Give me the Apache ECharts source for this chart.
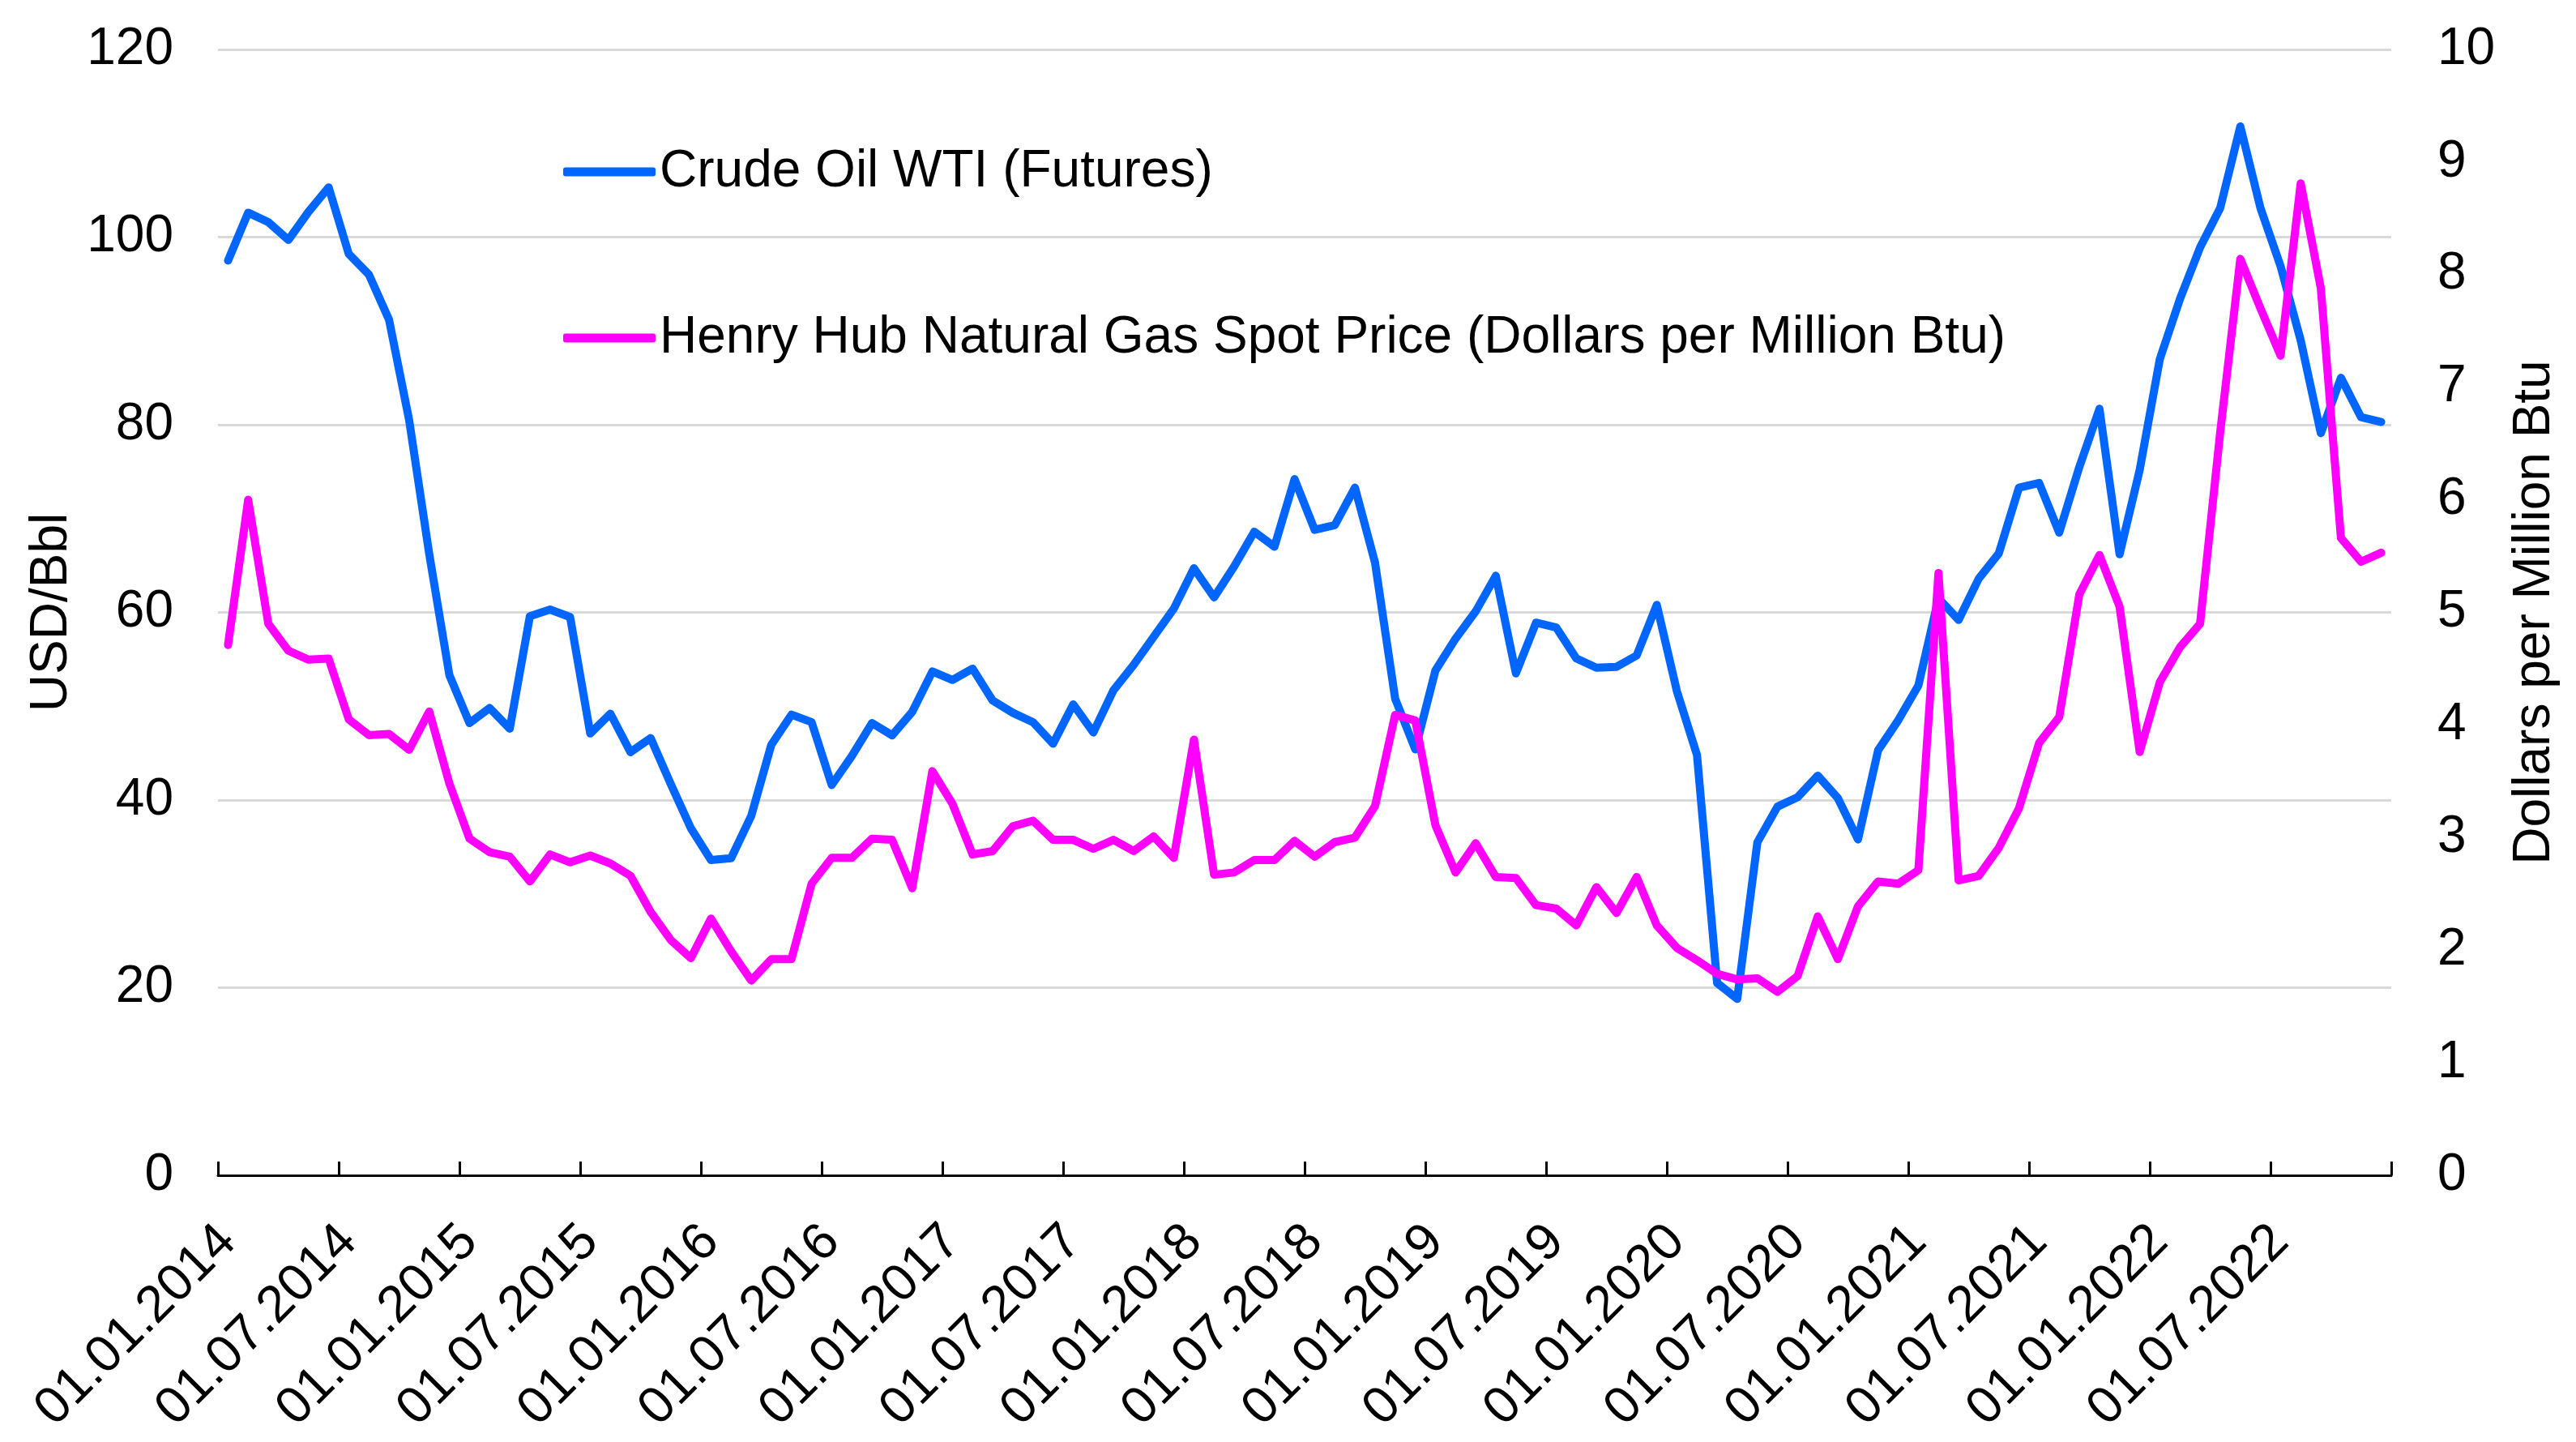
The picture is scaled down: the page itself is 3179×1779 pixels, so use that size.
<!DOCTYPE html>
<html>
<head>
<meta charset="utf-8">
<script src="https://cdn.jsdelivr.net/npm/echarts@6/dist/echarts.min.js"></script>
<style>
html,body{margin:0;padding:0;background:#fff;}
#chart{width:3179px;height:1779px;}
</style>
</head>
<body>
<div id="chart"></div>
<script>
var categories = [
"01.01.2014","01.02.2014","01.03.2014","01.04.2014","01.05.2014","01.06.2014","01.07.2014","01.08.2014","01.09.2014","01.10.2014","01.11.2014","01.12.2014",
"01.01.2015","01.02.2015","01.03.2015","01.04.2015","01.05.2015","01.06.2015","01.07.2015","01.08.2015","01.09.2015","01.10.2015","01.11.2015","01.12.2015",
"01.01.2016","01.02.2016","01.03.2016","01.04.2016","01.05.2016","01.06.2016","01.07.2016","01.08.2016","01.09.2016","01.10.2016","01.11.2016","01.12.2016",
"01.01.2017","01.02.2017","01.03.2017","01.04.2017","01.05.2017","01.06.2017","01.07.2017","01.08.2017","01.09.2017","01.10.2017","01.11.2017","01.12.2017",
"01.01.2018","01.02.2018","01.03.2018","01.04.2018","01.05.2018","01.06.2018","01.07.2018","01.08.2018","01.09.2018","01.10.2018","01.11.2018","01.12.2018",
"01.01.2019","01.02.2019","01.03.2019","01.04.2019","01.05.2019","01.06.2019","01.07.2019","01.08.2019","01.09.2019","01.10.2019","01.11.2019","01.12.2019",
"01.01.2020","01.02.2020","01.03.2020","01.04.2020","01.05.2020","01.06.2020","01.07.2020","01.08.2020","01.09.2020","01.10.2020","01.11.2020","01.12.2020",
"01.01.2021","01.02.2021","01.03.2021","01.04.2021","01.05.2021","01.06.2021","01.07.2021","01.08.2021","01.09.2021","01.10.2021","01.11.2021","01.12.2021",
"01.01.2022","01.02.2022","01.03.2022","01.04.2022","01.05.2022","01.06.2022","01.07.2022","01.08.2022","01.09.2022","01.10.2022","01.11.2022","01.12.2022"
];

var wtiName = "Crude Oil WTI (Futures)";
var hhName = "Henry Hub Natural Gas Spot Price (Dollars per Million Btu)";

var wtiValues = [
97.5,102.6,101.6,99.7,102.7,105.3,98.2,96.0,91.2,80.5,66.2,53.3,
48.2,49.8,47.6,59.6,60.3,59.5,47.1,49.2,45.1,46.6,41.7,37.0,
33.6,33.8,38.3,45.9,49.1,48.3,41.6,44.7,48.2,46.9,49.4,53.7,
52.8,54.0,50.6,49.3,48.3,46.0,50.2,47.2,51.7,54.4,57.4,60.4,
64.7,61.6,64.9,68.6,67.0,74.2,68.8,69.3,73.3,65.3,50.8,45.4,
53.8,57.2,60.1,63.9,53.5,58.9,58.4,55.1,54.1,54.2,55.4,60.8,
51.6,44.8,20.5,18.8,35.5,39.3,40.3,42.6,40.2,35.8,45.3,48.5,
52.2,61.5,59.2,63.6,66.3,73.3,73.8,68.5,75.5,81.7,66.2,75.2,
87.0,93.4,98.9,103.1,111.8,103.1,96.9,89.0,79.1,85.0,80.8,80.3
];

var hhValues = [
4.71,6.00,4.90,4.66,4.58,4.59,4.05,3.91,3.92,3.78,4.12,3.48,
2.99,2.87,2.83,2.61,2.85,2.78,2.84,2.77,2.66,2.34,2.09,1.93,
2.28,1.99,1.73,1.92,1.92,2.59,2.82,2.82,2.99,2.98,2.55,3.59,
3.30,2.85,2.88,3.10,3.15,2.98,2.98,2.90,2.98,2.88,3.01,2.82,
3.87,2.67,2.69,2.80,2.80,2.97,2.83,2.96,3.00,3.28,4.09,4.04,
3.11,2.69,2.95,2.65,2.64,2.40,2.37,2.22,2.56,2.33,2.65,2.22,
2.02,1.91,1.79,1.74,1.75,1.63,1.77,2.30,1.92,2.39,2.61,2.59,
2.71,5.35,2.62,2.66,2.91,3.26,3.84,4.07,5.16,5.51,5.05,3.76,
4.38,4.69,4.90,6.60,8.14,7.70,7.28,8.81,7.88,5.66,5.45,5.53
];

var leftTicks = [0, 20, 40, 60, 80, 100, 120];
var rightTicks = [0, 1, 2, 3, 4, 5, 6, 7, 8, 9, 10];

var FONT = "'Liberation Sans', Arial, sans-serif";
var FS = 64;

var chart = echarts.init(document.getElementById('chart'), null, {renderer: 'canvas'});
chart.setOption({
  animation: false,
  backgroundColor: '#ffffff',
  textStyle: {fontFamily: FONT},
  grid: {left: 269, right: 228, top: 61, bottom: 329, containLabel: false},
  legend: [
    {
      data: [wtiName], left: 690, top: 175, orient: 'horizontal',
      icon: 'roundRect', itemWidth: 114, itemHeight: 11,
      textStyle: {fontSize: FS, color: '#000', fontFamily: FONT}
    },
    {
      data: [hhName], left: 690, top: 380, orient: 'horizontal',
      icon: 'roundRect', itemWidth: 114, itemHeight: 11,
      textStyle: {fontSize: FS, color: '#000', fontFamily: FONT}
    }
  ],
  xAxis: {
    type: 'category',
    data: categories,
    boundaryGap: true,
    axisLine: {show: true, lineStyle: {color: '#000', width: 3}},
    axisTick: {show: true, inside: true, length: 17, interval: 5, lineStyle: {color: '#000', width: 3}},
    axisLabel: {interval: 5, rotate: 45, margin: 72, fontSize: FS, color: '#000', fontFamily: FONT},
    splitLine: {show: false}
  },
  yAxis: [
    {
      type: 'value', position: 'left',
      min: leftTicks[0], max: leftTicks[leftTicks.length - 1], interval: 20,
      name: 'USD/Bbl', nameLocation: 'middle', nameGap: 168, nameRotate: 90,
      nameTextStyle: {fontSize: FS, color: '#000', fontFamily: FONT},
      axisLine: {show: false}, axisTick: {show: false},
      axisLabel: {fontSize: FS, color: '#000', margin: 55, fontFamily: FONT},
      splitLine: {show: true, lineStyle: {color: '#d9d9d9', width: 3}}
    },
    {
      type: 'value', position: 'right',
      min: rightTicks[0], max: rightTicks[rightTicks.length - 1], interval: 1,
      name: 'Dollars per Million Btu', nameLocation: 'middle', nameGap: 145, nameRotate: 90,
      nameTextStyle: {fontSize: FS, color: '#000', fontFamily: FONT},
      axisLine: {show: false}, axisTick: {show: false},
      axisLabel: {fontSize: FS, color: '#000', margin: 57, fontFamily: FONT},
      splitLine: {show: false}
    }
  ],
  series: [
    {
      name: wtiName, type: 'line', yAxisIndex: 0, data: wtiValues,
      showSymbol: false, symbol: 'none', smooth: false,
      color: '#0066ff',
      lineStyle: {color: '#0066ff', width: 10, cap: 'round', join: 'round'},
      z: 2
    },
    {
      name: hhName, type: 'line', yAxisIndex: 1, data: hhValues,
      showSymbol: false, symbol: 'none', smooth: false,
      color: '#ff00ff',
      lineStyle: {color: '#ff00ff', width: 10, cap: 'round', join: 'round'},
      z: 3
    }
  ]
});
</script>
</body>
</html>
